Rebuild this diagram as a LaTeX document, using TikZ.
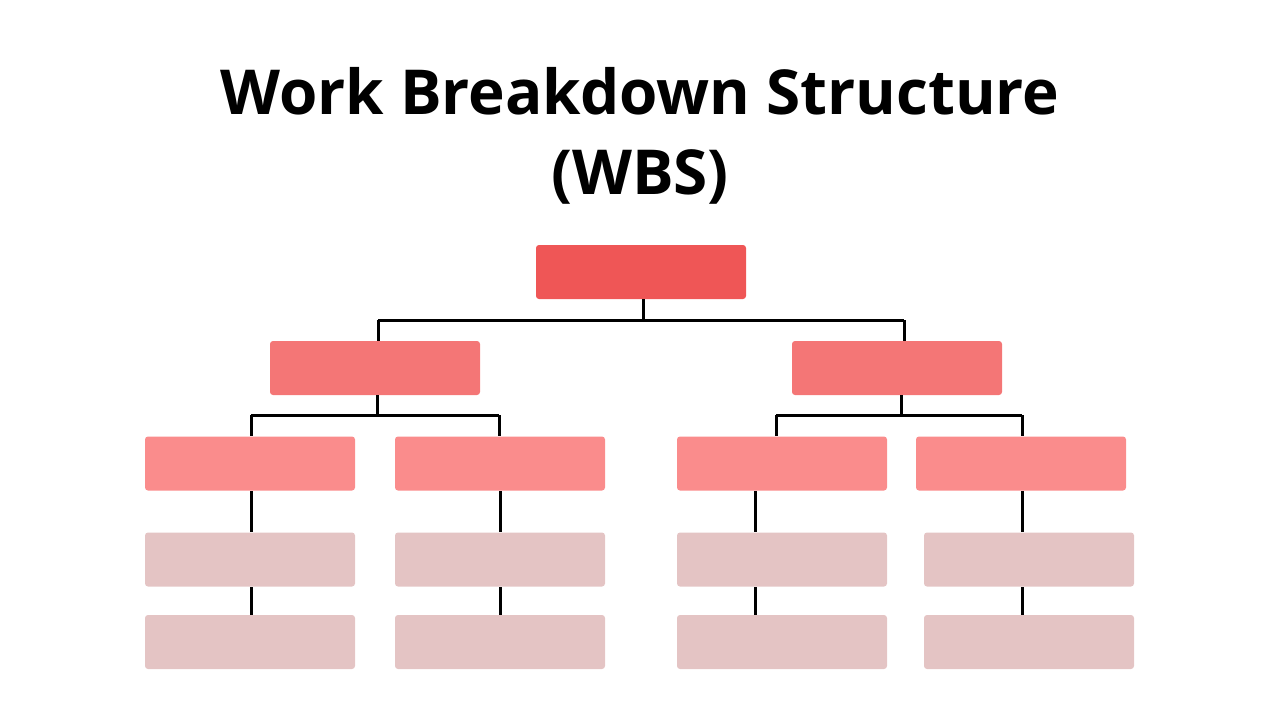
\documentclass[tikz,border=0pt]{standalone}
\usepackage{fontspec}
\setmainfont{Open Sans}
\begin{document}
\begin{tikzpicture}[x=1pt,y=-1pt,
  bx/.style={draw=none,rounded corners=3pt,minimum width=210pt,minimum height=54pt,inner sep=0pt},
  lA/.style={bx,fill=cA},lB/.style={bx,fill=cB},lC/.style={bx,fill=cC},lD/.style={bx,fill=cD},
  ln/.style={line width=3pt,black}]
\definecolor{cA}{HTML}{EF5656}\definecolor{cB}{HTML}{F47676}
\definecolor{cC}{HTML}{FA8C8C}\definecolor{cD}{HTML}{E4C4C4}
\useasboundingbox (0,0) rectangle (1280,720);
\node[font=\fontsize{62}{80}\selectfont\bfseries,align=center] (title) at (640,136) {Work Breakdown Structure\\(WBS)};
\node[lA] (r) at (641,272) {};
\node[lB] (b1) at (375,368) {};
\node[lB] (b2) at (897,368) {};
\foreach \n/\x in {1/250,2/500,3/782,4/1021}{\node[lC] (c\n) at (\x,463.5) {};}
\foreach \n/\x in {1/250,2/500,3/782,4/1029}{\node[lD] (d\n) at (\x,559.5) {}; \node[lD] (e\n) at (\x,642) {};}
% connectors
\coordinate (t0) at (643,320);\coordinate (tl) at (378,320);\coordinate (tr) at (904,320);
\draw[ln] (643,299) -- (t0);
\draw[ln] (tl) -- (tr);
\draw[ln] (tl) -- (378,341);\draw[ln] (tr) -- (904,341);
\coordinate (ul) at (251,415);\coordinate (ur) at (499,415);
\draw[ln] (377,395) -- (377,415);\draw[ln] (ul) -- (ur);
\draw[ln] (ul) -- (251,436);\draw[ln] (ur) -- (499,436);
\coordinate (vl) at (776,415);\coordinate (vr) at (1022,415);
\draw[ln] (901,395) -- (901,415);\draw[ln] (vl) -- (vr);
\draw[ln] (vl) -- (776,436);\draw[ln] (vr) -- (1022,436);
\foreach \x in {251,500,755,1022}{\draw[ln] (\x,491) -- (\x,532); \draw[ln] (\x,587) -- (\x,615);}
\end{tikzpicture}
\end{document}
